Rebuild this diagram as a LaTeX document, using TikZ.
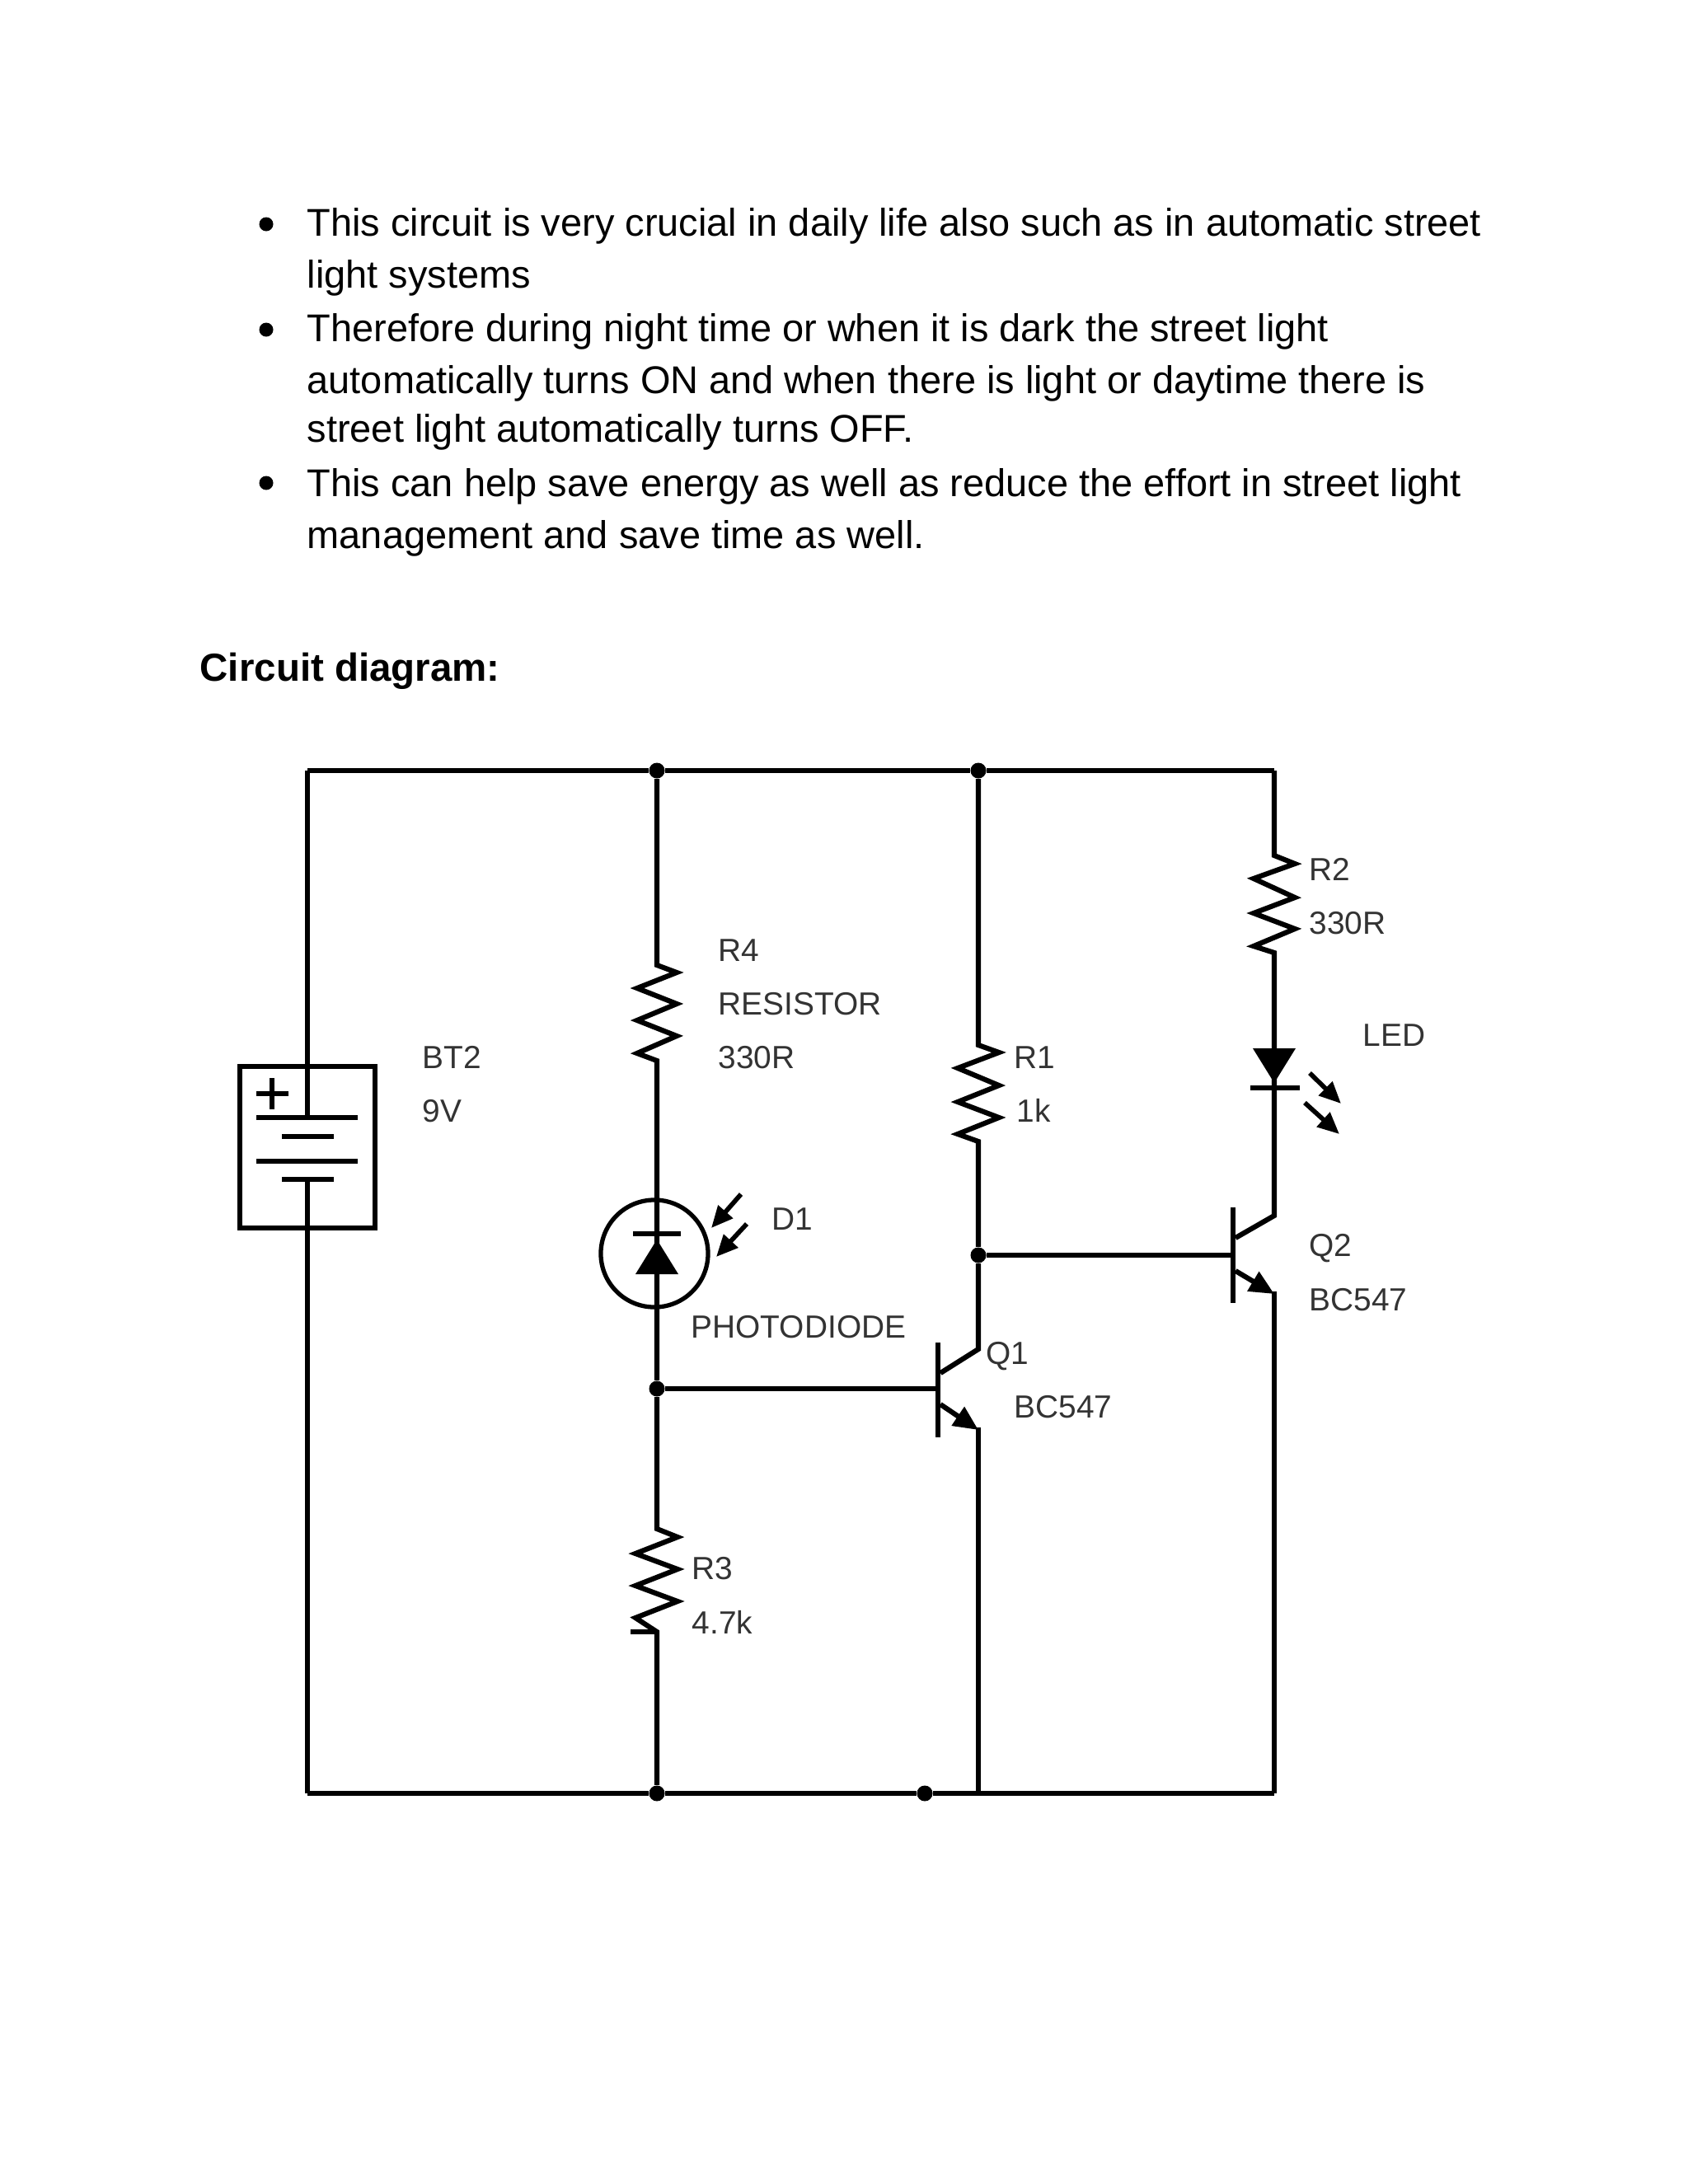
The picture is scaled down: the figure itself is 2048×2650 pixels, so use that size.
\documentclass[tikz,border=0pt]{standalone}
\usepackage{fontspec}
\setmainfont{Liberation Sans}
\usetikzlibrary{positioning, arrows.meta}

\tikzset{
	wire/.style = {line width = 1.75pt, line join = miter},
	dot/.style = {circle, fill = black, inner sep = 0pt, minimum size = 0.19cm},
	bullet/.style = {circle, fill = black, inner sep = 0pt, minimum size = 0.17cm},
	body/.style = {anchor = base west, inner sep = 0pt, font = \fontsize{13.35pt}{15pt}\selectfont},
	head/.style = {body, font = \fontsize{13.5pt}{15pt}\selectfont\bfseries},
	lbl/.style = {anchor = base west, inner sep = 0pt, xshift = -0.02cm, yshift = 0.01cm, text = black!80, font = \fontsize{11.05pt}{13pt}\selectfont},
	ray/.style = {line width = 1.6pt, -{Triangle[length = 7.5pt, width = 6.5pt]}},
	emit/.style = {wire, -{Triangle[length = 8.5pt, width = 7.5pt]}},
}

\begin{document}
\begin{tikzpicture}[x = 0.01cm, y = -0.01cm]
		\useasboundingbox (0, 0) rectangle (2048, 2650);

		% text above the circuit
		\node [bullet] (b1) at (323, 272) {};
		\node [bullet] (b2) at (323, 400) {};
		\node [bullet] (b3) at (323, 586) {};
		\node [body] (t1) at (372, 286) {This circuit is very crucial in daily life also such as in automatic street};
		\node [body] (t2) at (372, 349) {light systems};
		\node [body] (t3) at (372, 414) {Therefore during night time or when it is dark the street light};
		\node [body] (t4) at (372, 477) {automatically turns ON and when there is light or daytime there is};
		\node [body] (t5) at (372, 536) {street light automatically turns OFF.};
		\node [body] (t6) at (372, 602) {This can help save energy as well as reduce the effort in street light};
		\node [body] (t7) at (372, 665) {management and save time as well.};
		\node [head] (title) at (242, 826) {Circuit diagram:};

		% junctions
		\node [dot] (j1) at (797, 935) {};
		\node [dot] (j2) at (1187, 935) {};
		\node [dot] (j3) at (797, 2176) {};
		\node [dot] (j4) at (1122, 2176) {};
		\node [dot] (j5) at (797, 1685) {};
		\node [dot] (j6) at (1187, 1523) {};
		\coordinate (tl) at (373, 935);
		\coordinate (tr) at (1546, 935);
		\coordinate (bl) at (373, 2176);
		\coordinate (br) at (1546, 2176);
		\coordinate (gnd) at (1187, 2176);

		% outer rails
		\draw [wire] (tl) -- (j1) -- (j2) -- (tr);
		\draw [wire] (bl) -- (j3) -- (j4) -- (br);

		% battery
		\node [draw, wire, minimum width = 1.64cm, minimum height = 1.96cm] (bt2) at (373, 1392) {};
		\coordinate (p1) at (373, 1356);
		\coordinate (p2) at (373, 1379);
		\coordinate (p3) at (373, 1409);
		\coordinate (p4) at (373, 1431);
		\draw [wire] (tl) -- (p1);
		\draw [wire] (p4) -- (bl);
		\draw [wire] (311, 1356) -- (434, 1356);
		\draw [wire] (342, 1379) -- (405, 1379);
		\draw [wire] (311, 1409) -- (434, 1409);
		\draw [wire] (342, 1431) -- (405, 1431);
		\draw [wire] (311, 1327) -- (350, 1327);
		\draw [wire] (330, 1308) -- (330, 1346);

		% R4 and photodiode
		\coordinate (r4a) at (797, 1171);
		\coordinate (r4b) at (797, 1287);
		\draw [wire] (j1) -- (r4a) -- (821, 1180) -- (773, 1199) -- (821, 1218) -- (773, 1238) -- (821, 1257) -- (773, 1278) -- (r4b) -- (j5);
		\node [draw, circle, line width = 1.5pt, minimum size = 1.3cm] (d1) at (794, 1521) {};
		\draw [wire] (768, 1497) -- (826, 1497);
		\fill (797, 1504) -- (823, 1546) -- (771, 1546) -- cycle;
		\draw [ray] (899, 1449) -- (863, 1490);
		\draw [ray] (906, 1485) -- (869, 1525);

		% R3
		\coordinate (r3a) at (797, 1855);
		\coordinate (r3b) at (797, 1980);
		\draw [wire] (j5) -- (r3a) -- (822, 1865) -- (771, 1885) -- (822, 1904) -- (771, 1924) -- (822, 1943) -- (771, 1963) -- (r3b) -- (j3);
		\draw [wire] (765, 1980) -- (r3b);

		% R1 and Q1
		\coordinate (r1a) at (1187, 1268);
		\coordinate (r1b) at (1187, 1385);
		\draw [wire] (j2) -- (r1a) -- (1212, 1277) -- (1162, 1296) -- (1212, 1317) -- (1162, 1337) -- (1212, 1356) -- (1162, 1376) -- (r1b) -- (j6);
		\coordinate (q1b) at (1138, 1685);
		\coordinate (q1c) at (1187, 1637);
		\coordinate (q1e) at (1187, 1735);
		\draw [wire] (1138, 1629) -- (1138, 1744);
		\draw [wire] (j5) -- (q1b);
		\draw [wire] (j6) -- (q1c) -- (1141, 1666);
		\draw [emit] (1141, 1704) -- (q1e);
		\draw [wire] (1187, 1732) -- (gnd);

		% R2, LED and Q2
		\coordinate (r2a) at (1546, 1038);
		\coordinate (r2b) at (1546, 1156);
		\coordinate (q2b) at (1496, 1523);
		\coordinate (q2c) at (1546, 1475);
		\coordinate (q2e) at (1546, 1570);
		\draw [wire] (tr) -- (r2a) -- (1571, 1048) -- (1521, 1066) -- (1571, 1089) -- (1521, 1108) -- (1571, 1127) -- (1521, 1148) -- (r2b) -- (q2c) -- (1499, 1502);
		\fill (1520, 1272) -- (1572, 1272) -- (1546, 1314) -- cycle;
		\draw [wire] (1517, 1320) -- (1577, 1320);
		\draw [ray] (1589, 1302) -- (1627, 1339);
		\draw [ray] (1583, 1338) -- (1625, 1376);
		\draw [wire] (1496, 1465) -- (1496, 1581);
		\draw [wire] (j6) -- (q2b);
		\draw [emit] (1499, 1542) -- (q2e);
		\draw [wire] (1546, 1567) -- (br);

		% labels
		\node [lbl] (l1) at (514, 1297) {BT2};
		\node [lbl] (l2) at (514, 1362) {9V};
		\node [lbl] (l3) at (873, 1167) {R4};
		\node [lbl] (l4) at (873, 1232) {RESISTOR};
		\node [lbl] (l5) at (873, 1297) {330R};
		\node [lbl] (l6) at (938, 1493) {D1};
		\node [lbl] (l7) at (840, 1624) {PHOTODIODE};
		\node [lbl] (l8) at (841, 1917) {R3};
		\node [lbl] (l9) at (841, 1983) {4.7k};
		\node [lbl] (l10) at (1232, 1297) {R1};
		\node [lbl] (l11) at (1235, 1362) {1k};
		\node [lbl] (l12) at (1198, 1656) {Q1};
		\node [lbl] (l13) at (1232, 1721) {BC547};
		\node [lbl] (l14) at (1590, 1069) {R2};
		\node [lbl] (l15) at (1590, 1134) {330R};
		\node [lbl] (l16) at (1655, 1270) {LED};
		\node [lbl] (l17) at (1590, 1525) {Q2};
		\node [lbl] (l18) at (1590, 1591) {BC547};

	\end{tikzpicture}
\end{document}
